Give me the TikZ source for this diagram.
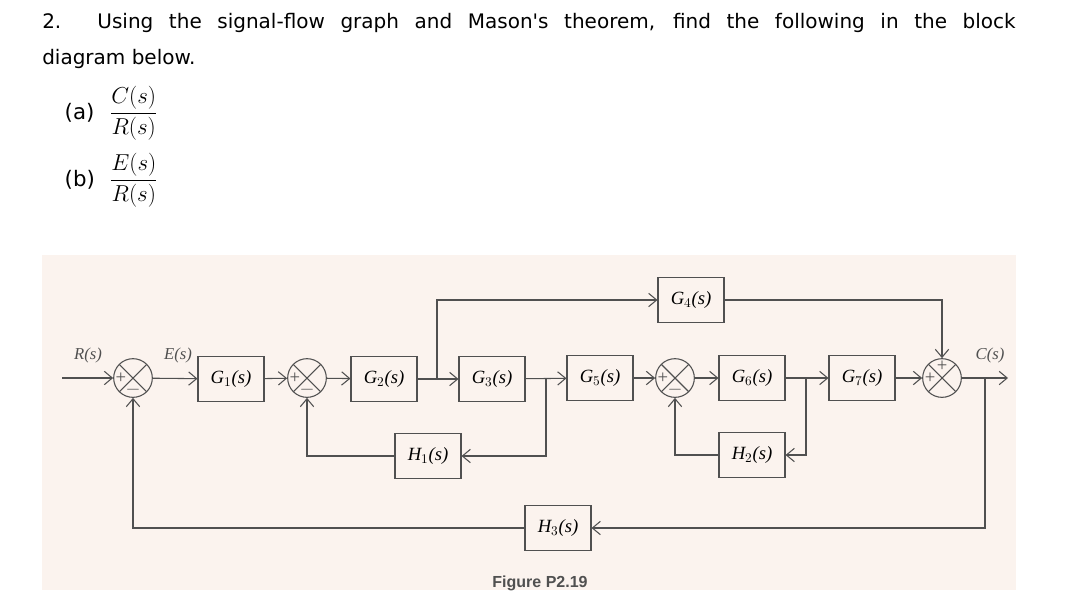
\documentclass[tikz,border=0pt]{standalone}
\usepackage{fontspec}
\setmainfont{Liberation Serif}
\newfontfamily\headfont{DejaVu Sans}
\newfontfamily\capfont{Liberation Sans}
\usetikzlibrary{arrows.meta}
\definecolor{paper}{HTML}{FBF3EE}
\definecolor{ink}{HTML}{505050}
\tikzset{
  block/.style = {draw=ink, thick, minimum width=49.5pt, minimum height=34pt,
                  inner sep=0pt, font=\fontsize{14}{16}\selectfont\itshape},
  sumnode/.style = {draw=ink, thick, circle, minimum size=29pt, inner sep=0pt,
                    path picture={\draw[ink, thick]
                      (path picture bounding box.south west) -- (path picture bounding box.north east)
                      (path picture bounding box.north west) -- (path picture bounding box.south east);}},
  sign/.style = {font=\fontsize{14}{14}\selectfont, text=ink, inner sep=0pt},
  sig/.style = {font=\fontsize{12.5}{14}\selectfont\itshape, text=ink},
  flow/.style = {draw=ink, thick, -{Straight Barb[length=6pt,width=10pt]}},
  wire/.style = {draw=ink, thick}
}
\begin{document}
\begin{tikzpicture}[x=0.75pt, y=-0.75pt]
  \useasboundingbox (0,0) rectangle (1080,590);
  \fill[paper] (42,255) rectangle (1016,590);
  % question text
  \node[anchor=north west, text width=730pt, align=justify, inner sep=0pt,
        font=\headfont\fontsize{15}{27}\selectfont] (qtext) at (42,13)
    {2. Using the signal-flow graph and Mason's theorem, find the following in the block\linebreak diagram below.};
  \node[anchor=west, font=\headfont\fontsize{16}{18}\selectfont] (qa) at (60,113) {(a)};
  \node[anchor=west, font=\fontsize{16}{18}\selectfont] (fa) at (105,113) {$\displaystyle\frac{C(s)}{R(s)}$};
  \node[anchor=west, font=\headfont\fontsize{16}{18}\selectfont] (qb) at (60,180) {(b)};
  \node[anchor=west, font=\fontsize{16}{18}\selectfont] (fb) at (105,180) {$\displaystyle\frac{E(s)}{R(s)}$};
  % blocks and summing junctions
  \node[sumnode] (s1) at (133,378) {};
  \node[block] (g1) at (231,379) {G$_1$(s)};
  \node[sumnode] (s2) at (307,378) {};
  \node[block] (g2) at (384,379) {G$_2$(s)};
  \node[block] (g3) at (492,379) {G$_3$(s)};
  \node[block] (g4) at (691,300) {G$_4$(s)};
  \node[block] (g5) at (600,378) {G$_5$(s)};
  \node[sumnode] (s3) at (675,378) {};
  \node[block] (g6) at (752,378) {G$_6$(s)};
  \node[block] (g7) at (862,378) {G$_7$(s)};
  \node[sumnode] (s4) at (942,378) {};
  \node[block] (h1) at (428,456) {H$_1$(s)};
  \node[block] (h2) at (752,455) {H$_2$(s)};
  \node[block] (h3) at (558,528) {H$_3$(s)};
  % signs
  \foreach \s in {s1,s2,s3,s4}
    \node[sign] at ([xshift=-9pt]\s.center) {+};
  \foreach \s in {s1,s2,s3}
    \node[sign] at ([yshift=-9pt]\s.center) {$-$};
  \node[sign] at ([yshift=9pt]s4.center) {+};
  % signals
  \coordinate (rin) at (62,378);
  \coordinate (bg2) at (437,379);
  \coordinate (bg3) at (546,379);
  \coordinate (bg6) at (806,378);
  \coordinate (cout) at (985,378);
  \coordinate (cend) at (1008,378);
  \node[sig] (rlab) at (88,355) {R(s)};
  \node[sig] (elab) at (178,355) {E(s)};
  \node[sig] (clab) at (990,355) {C(s)};
  % main path
  \draw[flow] (rin) -- (s1);
  \draw[flow] (s1) -- (g1);
  \draw[flow] (g1) -- (s2);
  \draw[flow] (s2) -- (g2);
  \draw[flow] (g2) -- (g3);
  \draw[flow] (g3) -- (g5);
  \draw[flow] (g5) -- (s3);
  \draw[flow] (s3) -- (g6);
  \draw[flow] (g6) -- (g7);
  \draw[flow] (g7) -- (s4);
  \draw[flow] (s4) -- (cend);
  % feedforward and feedback
  \draw[flow] (bg2) |- (g4);
  \draw[flow] (g4) -| (s4);
  \draw[flow] (bg3) |- (h1);
  \draw[flow] (h1) -| (s2);
  \draw[flow] (bg6) |- (h2);
  \draw[flow] (h2) -| (s3);
  \draw[flow] (cout) |- (h3);
  \draw[flow] (h3) -| (s1);
  \node[font=\capfont\bfseries\fontsize{12}{14}\selectfont, text=ink] (figcap) at (540,583) {Figure P2.19};
\end{tikzpicture}
\end{document}
